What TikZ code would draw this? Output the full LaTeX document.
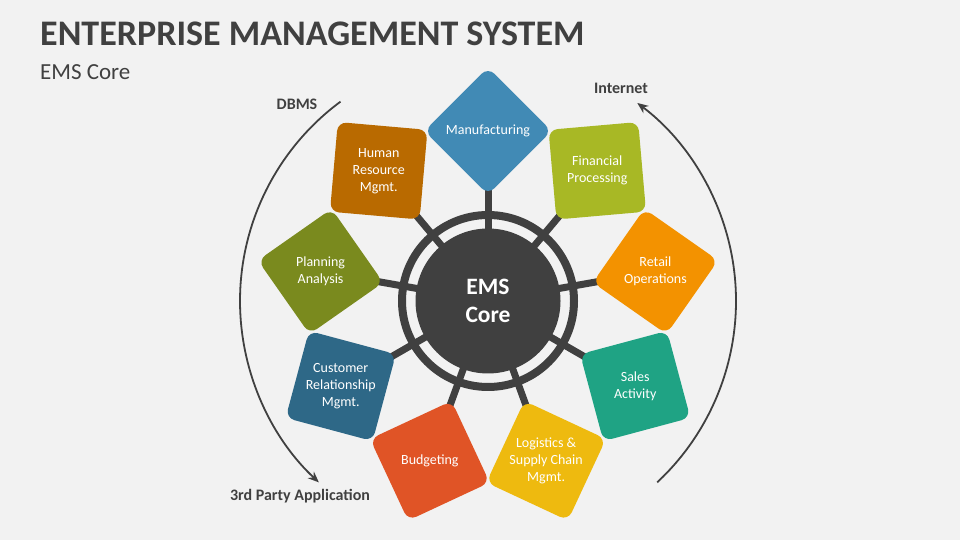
\documentclass[tikz,border=0pt]{standalone}
\usepackage{fontspec}
\setmainfont{Carlito}
\usetikzlibrary{arrows.meta, calc}

\pgfdeclarelayer{bg}
\pgfsetlayers{bg,main}

\definecolor{bgGray}{HTML}{F2F2F2}
\definecolor{coreGray}{HTML}{404040}
\definecolor{mfgBlue}{HTML}{418AB5}
\definecolor{finGreen}{HTML}{A8B825}
\definecolor{retailOrange}{HTML}{F39200}
\definecolor{salesTeal}{HTML}{1FA384}
\definecolor{logisYellow}{HTML}{EEBA0F}
\definecolor{budgetRed}{HTML}{E05426}
\definecolor{crmBlue}{HTML}{2E6887}
\definecolor{planOlive}{HTML}{7A8A1E}
\definecolor{hrBrown}{HTML}{B96A00}

\begin{document}
\begin{tikzpicture}[
		x=1pt, y=1pt,
		>=Stealth,
		% Box Styles
		module_box/.style={rectangle, rounded corners=9pt, minimum size=90pt, inner sep=0pt},
		module_text/.style={text=white, align=center, font=\fontsize{14}{17}\selectfont},
		core_node/.style={circle, fill=coreGray, minimum size=145pt, inner sep=0pt, text=white, align=center, font=\bfseries\fontsize{23.5}{28}\selectfont},
		side_label/.style={text=coreGray, font=\bfseries\fontsize{16}{18}\selectfont},
		% Edge Styles
		spoke_edge/.style={draw=coreGray, line width=7pt},
		ring_edge/.style={draw=coreGray, line width=8pt},
		flow_arc/.style={-{Stealth[length=11pt, width=9pt]}, draw=coreGray, line width=1.8pt}
		]
		
		\useasboundingbox (0,0) rectangle (960,540);
		\begin{pgfonlayer}{bg}
			\fill[bgGray] (0,0) rectangle (960,540);
		\end{pgfonlayer}
		
		% --- 1. TITLE ---
		\node[anchor=base west, inner sep=0pt, text=coreGray, font=\bfseries\fontsize{36}{40}\selectfont] (title) at (40,494) {ENTERPRISE MANAGEMENT SYSTEM};
		\node[anchor=base west, inner sep=0pt, text=coreGray, font=\fontsize{23}{26}\selectfont] (subtitle) at (40,460) {EMS Core};
		
		% --- 2. CORE ---
		\node[core_node] (core) at (488,239) {EMS\\Core};
		\draw[ring_edge] (core.center) circle[radius=86];
		
		% --- 3. MODULES (one corner toward the core) ---
		\node[module_box, fill=mfgBlue, rotate=45] (mfg) at ($(core)+(90:170)$) {};
		\node[module_box, fill=finGreen, rotate=5] (fin) at ($(core)+(50:170)$) {};
		\node[module_box, fill=retailOrange, rotate=-35] (retail) at ($(core)+(10:170)$) {};
		\node[module_box, fill=salesTeal, rotate=15] (sales) at ($(core)+(-30:170)$) {};
		\node[module_box, fill=logisYellow, rotate=-25] (logis) at ($(core)+(-70:170)$) {};
		\node[module_box, fill=budgetRed, rotate=25] (budget) at ($(core)+(-110:170)$) {};
		\node[module_box, fill=crmBlue, rotate=-15] (crm) at ($(core)+(-150:170)$) {};
		\node[module_box, fill=planOlive, rotate=35] (plan) at ($(core)+(170:170)$) {};
		\node[module_box, fill=hrBrown, rotate=-5] (hr) at ($(core)+(130:170)$) {};
		
		% Texts stay upright
		\node[module_text] (mfg_txt) at (mfg) {Manufacturing};
		\node[module_text] (fin_txt) at (fin) {Financial\\Processing};
		\node[module_text] (retail_txt) at (retail) {Retail\\Operations};
		\node[module_text] (sales_txt) at (sales) {Sales\\Activity};
		\node[module_text] (logis_txt) at (logis) {Logistics \&\\Supply Chain\\Mgmt.};
		\node[module_text] (budget_txt) at (budget) {Budgeting};
		\node[module_text] (crm_txt) at (crm) {Customer\\Relationship\\Mgmt.};
		\node[module_text] (plan_txt) at (plan) {Planning\\Analysis};
		\node[module_text] (hr_txt) at (hr) {Human\\Resource\\Mgmt.};
		
		% ================= SPOKES =================
		\begin{pgfonlayer}{bg}
			\draw[spoke_edge] (core.center) -- (mfg.center);
			\draw[spoke_edge] (core.center) -- (fin.center);
			\draw[spoke_edge] (core.center) -- (retail.center);
			\draw[spoke_edge] (core.center) -- (sales.center);
			\draw[spoke_edge] (core.center) -- (logis.center);
			\draw[spoke_edge] (core.center) -- (budget.center);
			\draw[spoke_edge] (core.center) -- (crm.center);
			\draw[spoke_edge] (core.center) -- (plan.center);
			\draw[spoke_edge] (core.center) -- (hr.center);
		\end{pgfonlayer}
		
		% ================= OUTER FLOWS =================
		\node[side_label] (dbms) at (297,436) {DBMS};
		\node[side_label] (internet) at (621,452) {Internet};
		\node[side_label] (thirdparty) at (300,44) {3rd Party Application};
		
		\draw[flow_arc] ($(core)+(126.5:248)$) arc[start angle=126.5, end angle=227, radius=248];
		\draw[flow_arc] ($(core)+(-47:248)$) arc[start angle=-47, end angle=53, radius=248];
		
	\end{tikzpicture}
\end{document}
